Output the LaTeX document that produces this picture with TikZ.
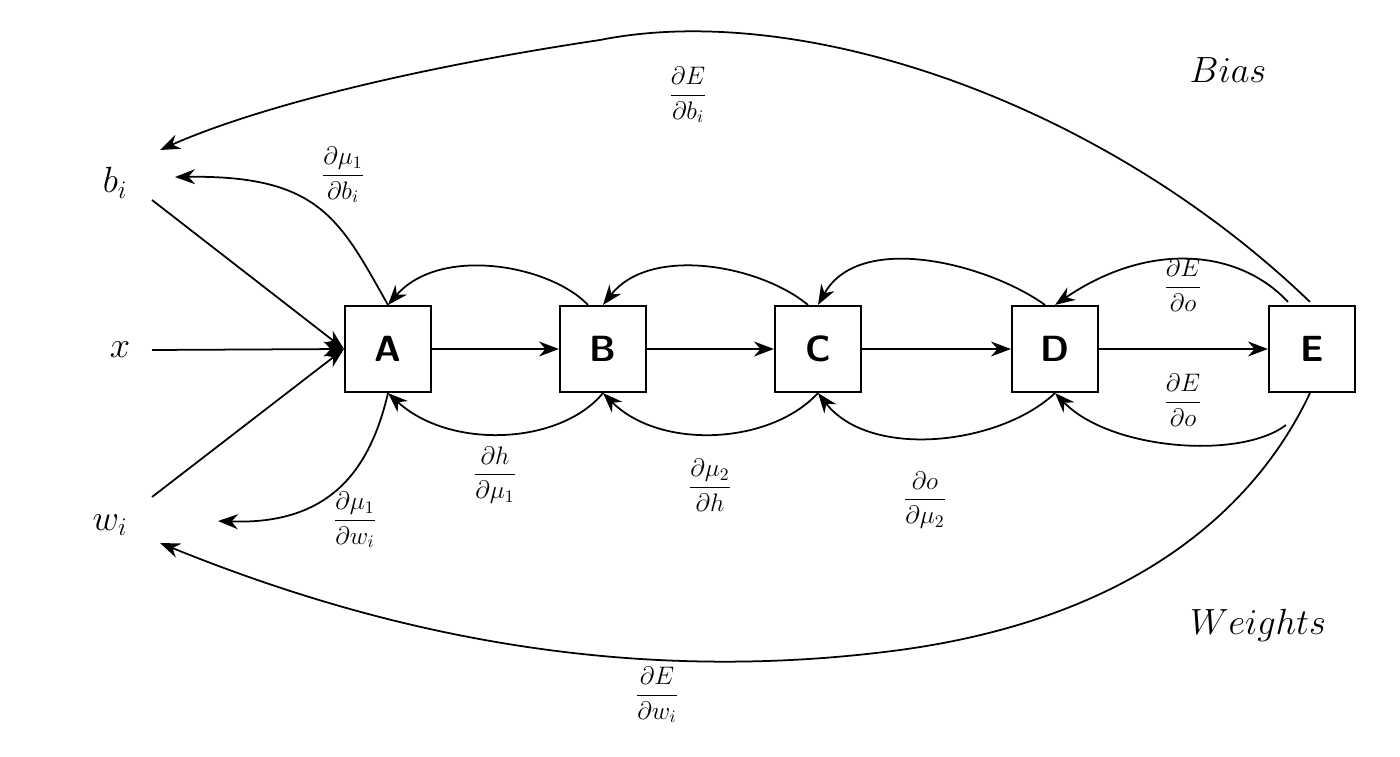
\documentclass[tikz,border=0pt]{standalone}
\usepackage{amsmath}
\usetikzlibrary{arrows.meta,calc}
\begin{document}
\begin{tikzpicture}[x=0.02cm,y=-0.02cm,
  box/.style={draw,line width=1.2pt,minimum size=1.72cm,inner sep=0pt,font=\huge\sffamily\bfseries},
  arr/.style={-{Stealth[length=4mm,width=3mm]},line width=1pt},
  lbl/.style={font=\Large},
  var/.style={font=\huge}]
\useasboundingbox (0,0) rectangle (1400,757);
\node[box] (A) at (388,349) {A};
\node[box] (B) at (603,349) {B};
\node[box] (C) at (818,349) {C};
\node[box] (D) at (1055,349) {D};
\node[box] (E) at (1312,349) {E};
\node[var] (b) at (115,183) {$b_i$};
\node[var] (x) at (120,350) {$x$};
\node[var] (w) at (110,525) {$w_i$};
\coordinate (bt) at (175,177);
\coordinate (wt) at (218,521);
\coordinate (bE) at (160,150);
\coordinate (wE) at (160,543);
\coordinate (bs) at (152,200);
\coordinate (xs) at (152,350);
\coordinate (ws) at (152,497);
\draw[arr] (bs) -- (A.west);
\draw[arr] (xs) -- (A.west);
\draw[arr] (ws) -- (A.west);
\draw[arr] (A) -- (B);
\draw[arr] (B) -- (C);
\draw[arr] (C) -- (D);
\draw[arr] (D) -- (E);
% top back arrows
\draw[arr] ($(B.north)+(-15,0)$) .. controls (550,265) and (440,245) .. (A.north);
\draw[arr] ($(C.north)+(-10,0)$) .. controls (760,265) and (650,245) .. (B.north);
\draw[arr] ($(D.north)+(-10,0)$) .. controls (990,265) and (860,230) .. (C.north);
\draw[arr] ($(E.north west)+(20,-3)$) .. controls (1240,250) and (1150,240) .. (D.north);
% bottom back arrows
\draw[arr] (B.south) .. controls (560,445) and (450,450) .. (A.south);
\draw[arr] (C.south) .. controls (770,445) and (660,450) .. (B.south);
\draw[arr] (D.south) .. controls (1000,445) and (870,460) .. (C.south);
\draw[arr] ($(E.south west)+(18,32)$) .. controls (1240,460) and (1110,450) .. (D.south);
% to bias/weights
\draw[arr] (A.north) .. controls (340,220) and (320,175) .. (bt);
\draw[arr] (A.south) .. controls (370,470) and (330,525) .. (wt);
\draw[arr] ($(E.north)+(-2,-3)$) .. controls (1100,100) and (800,0) .. (600,40) .. controls (400,70) and (250,110) .. (bE);
\draw[arr] ($(E.south)+(-2,0)$) .. controls (1250,520) and (1120,620) .. (900,650) .. controls (600,690) and (350,620) .. (wE);
% labels
\node[lbl] at (688,95) {$\dfrac{\partial E}{\partial b_i}$};
\node[lbl] at (343,175) {$\dfrac{\partial \mu_1}{\partial b_i}$};
\node[lbl] at (1183,285) {$\dfrac{\partial E}{\partial o}$};
\node[lbl] at (1183,400) {$\dfrac{\partial E}{\partial o}$};
\node[lbl] at (495,475) {$\dfrac{\partial h}{\partial \mu_1}$};
\node[lbl] at (710,485) {$\dfrac{\partial \mu_2}{\partial h}$};
\node[lbl] at (925,500) {$\dfrac{\partial o}{\partial \mu_2}$};
\node[lbl] at (355,520) {$\dfrac{\partial \mu_1}{\partial w_i}$};
\node[lbl] at (657,695) {$\dfrac{\partial E}{\partial w_i}$};
\node[var] at (1228,70) {$Bias$};
\node[var] at (1258,625) {$Weights$};
\end{tikzpicture}
\end{document}
